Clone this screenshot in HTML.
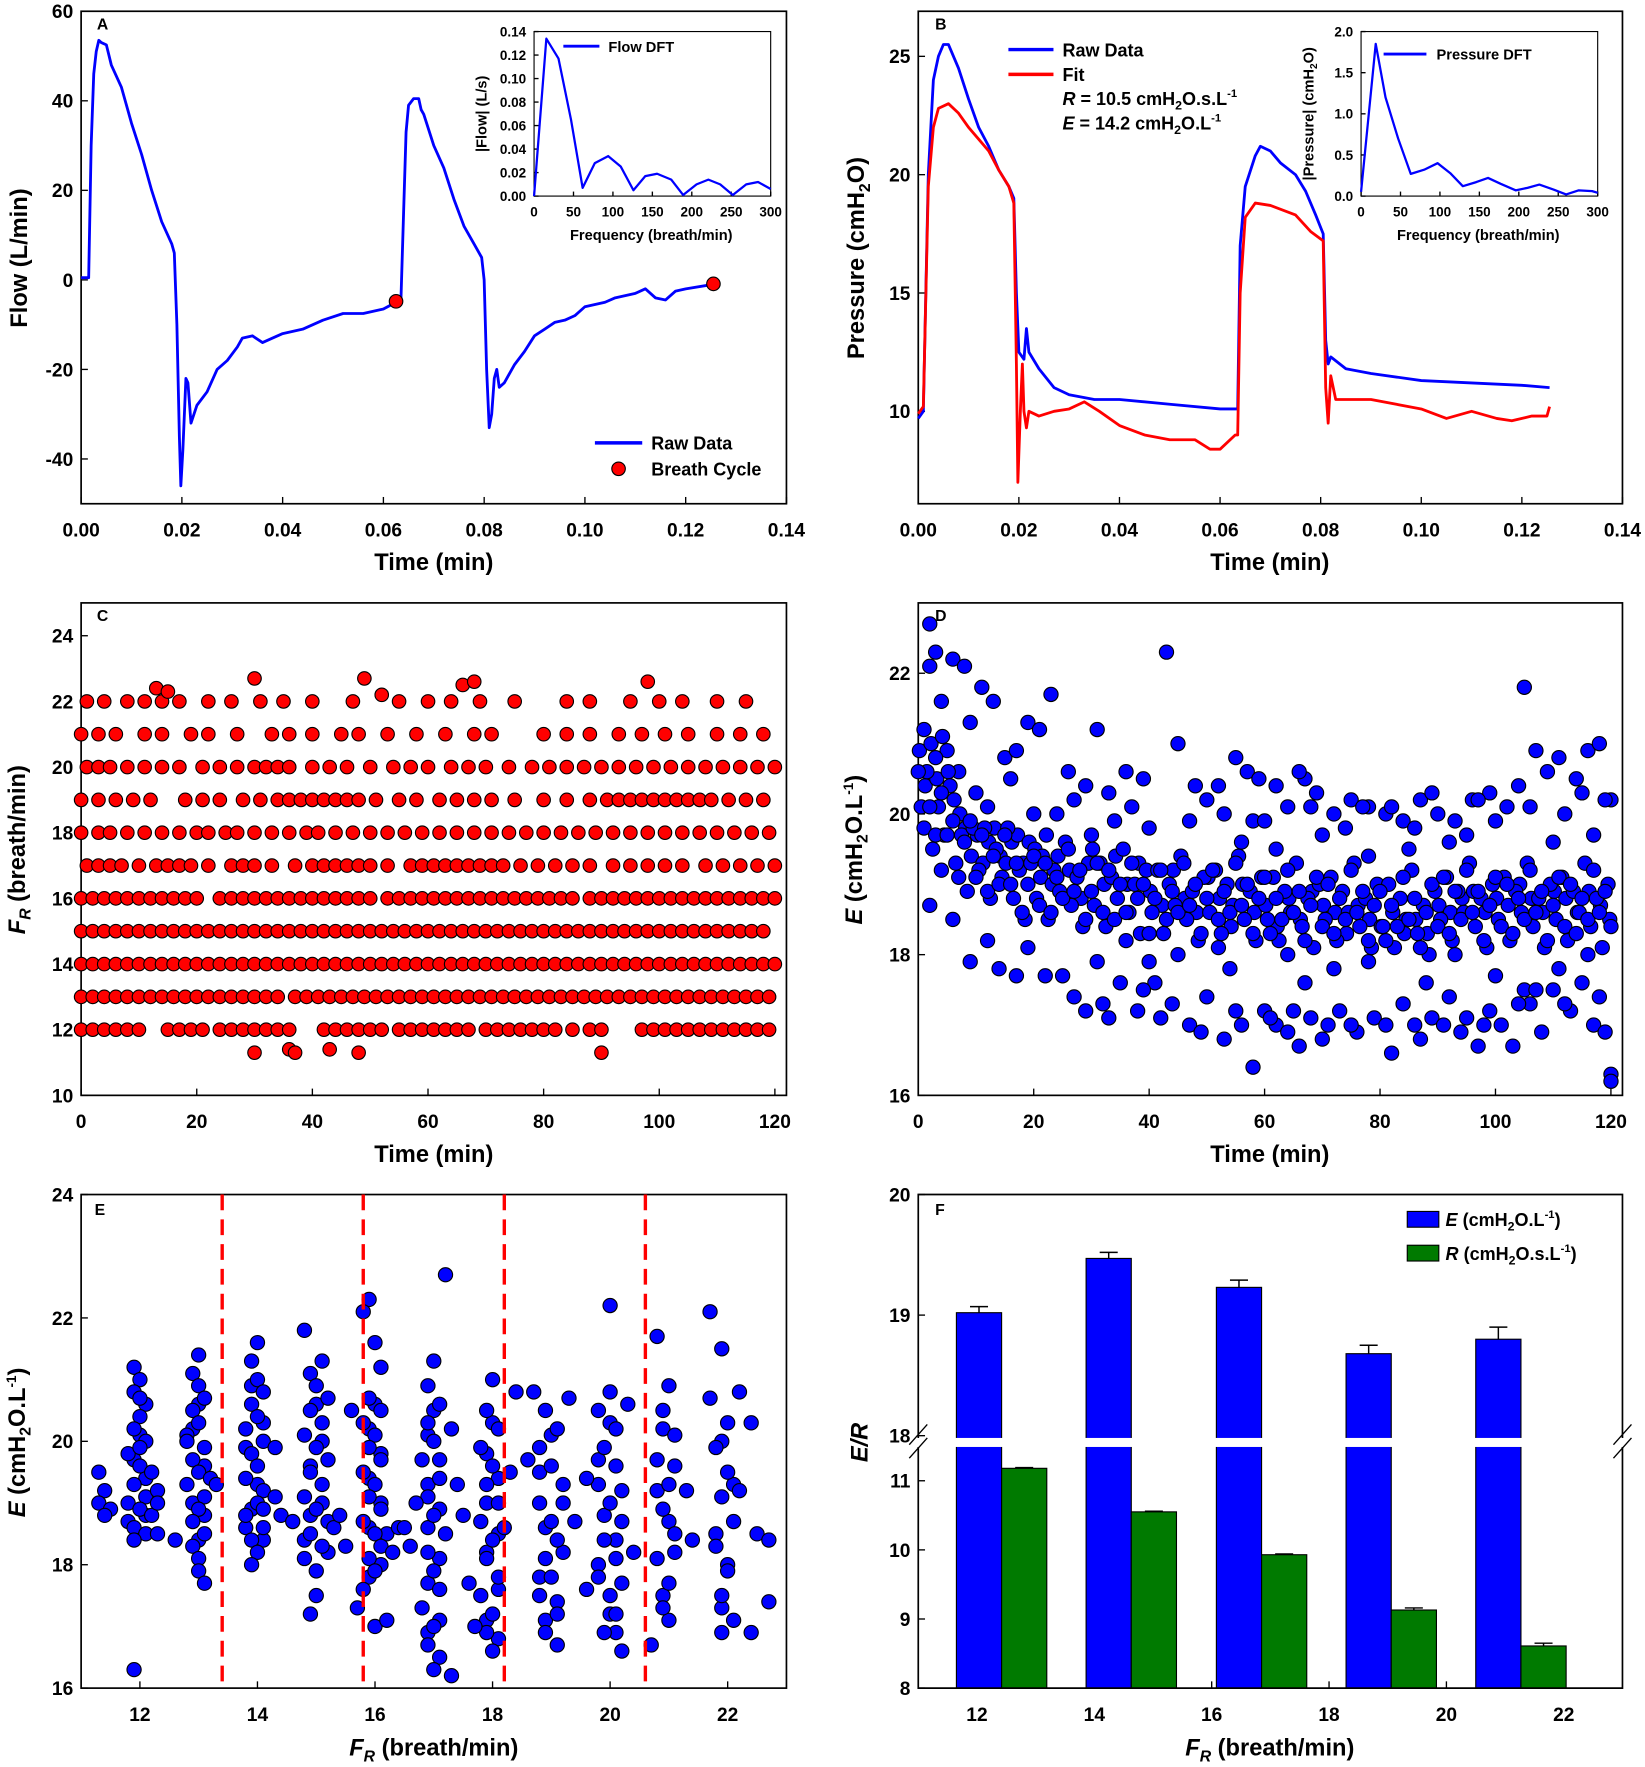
<!DOCTYPE html>
<html><head><meta charset="utf-8"><title>Respiratory mechanics figure</title>
<style>
html,body{margin:0;padding:0;background:#fff;}
svg{display:block;font-family:"Liberation Sans",Arial,sans-serif;font-weight:bold;}
</style></head>
<body>
<svg id="fig" xmlns="http://www.w3.org/2000/svg" width="1645" height="1767" viewBox="0 0 1460 1568" preserveAspectRatio="none">
<rect x="0" y="0" width="1460" height="1568" fill="#fff"/>
<g id="layer"></g>
<g font-size="21" text-anchor="middle">
<text transform="translate(24,229) rotate(-90)">Flow (L/min)</text>
<text x="385" y="506">Time (min)</text>
<text transform="translate(767,229) rotate(-90)">Pressure (cmH<tspan font-size="14" dy="5">2</tspan><tspan dy="-5">O)</tspan></text>
<text x="1127" y="506">Time (min)</text>
<text transform="translate(22,754) rotate(-90)"><tspan font-style="italic">F</tspan><tspan font-style="italic" font-size="14" dy="5">R</tspan><tspan dy="-5"> (breath/min)</tspan></text>
<text x="385" y="1031">Time (min)</text>
<text transform="translate(765,754) rotate(-90)"><tspan font-style="italic">E</tspan> (cmH<tspan font-size="14" dy="5">2</tspan><tspan dy="-5">O.L</tspan><tspan font-size="12" dy="-8">-1</tspan><tspan dy="8">)</tspan></text>
<text x="1127" y="1031">Time (min)</text>
<text transform="translate(22,1280) rotate(-90)"><tspan font-style="italic">E</tspan> (cmH<tspan font-size="14" dy="5">2</tspan><tspan dy="-5">O.L</tspan><tspan font-size="12" dy="-8">-1</tspan><tspan dy="8">)</tspan></text>
<text x="385" y="1558"><tspan font-style="italic">F</tspan><tspan font-style="italic" font-size="14" dy="5">R</tspan><tspan dy="-5"> (breath/min)</tspan></text>
<text transform="translate(770,1280) rotate(-90)" font-style="italic">E/R</text>
<text x="1127" y="1558"><tspan font-style="italic">F</tspan><tspan font-style="italic" font-size="14" dy="5">R</tspan><tspan dy="-5"> (breath/min)</tspan></text>
</g>
<g font-size="14">
<text x="86" y="26">A</text>
<text x="830" y="26">B</text>
<text x="86" y="551">C</text>
<text x="830" y="551">D</text>
<text x="84" y="1078">E</text>
<text x="830" y="1078">F</text>
</g>
<g id="legends" font-size="16">
<g>
<line x1="528" y1="393" x2="570" y2="393" stroke="#0000ff" stroke-width="3"/>
<text x="578" y="399">Raw Data</text>
<circle cx="549" cy="416" r="6" fill="#ff0000" stroke="#000" stroke-width="1"/>
<text x="578" y="422">Breath Cycle</text>
</g>
<g>
<line x1="895" y1="44" x2="935" y2="44" stroke="#0000ff" stroke-width="3"/>
<text x="943" y="50">Raw Data</text>
<line x1="895" y1="66" x2="935" y2="66" stroke="#ff0000" stroke-width="3"/>
<text x="943" y="72">Fit</text>
<text x="943" y="93"><tspan font-style="italic">R</tspan> = 10.5 cmH<tspan font-size="11" dy="4">2</tspan><tspan dy="-4">O.s.L</tspan><tspan font-size="10" dy="-7">-1</tspan></text>
<text x="943" y="115"><tspan font-style="italic">E</tspan> = 14.2 cmH<tspan font-size="11" dy="4">2</tspan><tspan dy="-4">O.L</tspan><tspan font-size="10" dy="-7">-1</tspan></text>
</g>
<g font-size="13">
<line x1="500" y1="41" x2="532" y2="41" stroke="#0000ff" stroke-width="2.5"/>
<text x="540" y="46">Flow DFT</text>
<line x1="1228" y1="48" x2="1266" y2="48" stroke="#0000ff" stroke-width="2.5"/>
<text x="1275" y="53">Pressure DFT</text>
<text transform="translate(432,101) rotate(-90)" text-anchor="middle">|Flow| (L/s)</text>
<text x="578" y="213" text-anchor="middle">Frequency (breath/min)</text>
<text transform="translate(1166,101) rotate(-90)" text-anchor="middle">|Pressure| (cmH<tspan font-size="9" dy="3">2</tspan><tspan dy="-3">O)</tspan></text>
<text x="1312" y="213" text-anchor="middle">Frequency (breath/min)</text>
</g>
<g font-size="16">
<rect x="1249" y="1075" width="28" height="14" fill="#0000ff" stroke="#000"/>
<text x="1283" y="1088"><tspan font-style="italic">E</tspan>  (cmH<tspan font-size="11" dy="4">2</tspan><tspan dy="-4">O.L</tspan><tspan font-size="10" dy="-7">-1</tspan><tspan dy="7">)</tspan></text>
<rect x="1249" y="1105" width="28" height="14" fill="#007a00" stroke="#000"/>
<text x="1283" y="1118"><tspan font-style="italic">R</tspan>  (cmH<tspan font-size="11" dy="4">2</tspan><tspan dy="-4">O.s.L</tspan><tspan font-size="10" dy="-7">-1</tspan><tspan dy="7">)</tspan></text>
</g>
</g>
</svg>
<script>
// ---------- data ----------
const flowT=[0,0.0015,0.002,0.0025,0.003,0.0035,0.004,0.005,0.006,0.008,0.010,0.012,0.014,0.016,0.018,0.0185,0.019,0.0195,0.0198,0.0202,0.0208,0.0212,0.0218,0.023,0.025,0.027,0.029,0.031,0.032,0.034,0.036,0.038,0.040,0.044,0.048,0.052,0.056,0.060,0.0625,0.0635,0.064,0.0645,0.065,0.066,0.067,0.0675,0.068,0.070,0.072,0.074,0.076,0.078,0.0795,0.080,0.0805,0.081,0.0815,0.082,0.0825,0.083,0.084,0.086,0.088,0.090,0.092,0.094,0.096,0.098,0.100,0.104,0.106,0.110,0.112,0.114,0.116,0.118,0.120,0.1255];
const flowV=[0.5,0.5,30,46,51,53.5,53,52.5,48,43,35,28,20,13,8,6,-10,-35,-46,-38,-22,-23,-32,-28,-25,-20,-18,-15,-13,-12.5,-14,-13,-12,-11,-9,-7.5,-7.5,-6.5,-5,-4,15,33,39,40.5,40.5,38,37,30,25,18,12,8,5,0,-20,-33,-30,-22,-20,-24,-23,-19,-16,-12.5,-11,-9.5,-9,-8,-6,-5,-4,-3,-2,-4,-4.5,-2.5,-2,-1];
const breathT=[0.0625,0.1255];
const breathV=[-4.8,-0.9];
const flowDftF=[0,15.6,31,46.8,61.6,77,94,110,126,141,156,174,189,206,221,236,252,269,284,300];
const flowDftV=[0,0.134,0.117,0.065,0.007,0.028,0.034,0.025,0.005,0.017,0.019,0.014,0.001,0.010,0.014,0.010,0.001,0.010,0.012,0.006];
const presT=[0,0.001,0.002,0.003,0.004,0.005,0.006,0.008,0.010,0.012,0.014,0.016,0.018,0.019,0.0195,0.020,0.021,0.0215,0.022,0.024,0.027,0.030,0.035,0.040,0.050,0.060,0.0635,0.064,0.065,0.067,0.068,0.070,0.072,0.075,0.077,0.079,0.0805,0.081,0.0815,0.082,0.085,0.090,0.100,0.110,0.120,0.1255];
const presRaw=[9.7,10,20,24,25,25.5,25.5,24.5,23.2,22,21.2,20.2,19.5,19,15,12.5,12.2,13.5,12.5,11.8,11,10.7,10.5,10.5,10.3,10.1,10.1,17,19.5,20.8,21.2,21,20.5,20,19.3,18.3,17.5,13,12,12.3,11.8,11.6,11.3,11.2,11.1,11];
const fitT=[0,0.001,0.002,0.003,0.004,0.006,0.008,0.010,0.012,0.014,0.016,0.018,0.019,0.0195,0.0198,0.0203,0.0207,0.021,0.0215,0.022,0.024,0.027,0.030,0.033,0.036,0.040,0.045,0.050,0.055,0.058,0.060,0.063,0.0635,0.064,0.065,0.067,0.070,0.075,0.078,0.0805,0.081,0.0815,0.082,0.083,0.090,0.100,0.105,0.110,0.115,0.118,0.122,0.125,0.1255];
const fitV=[9.9,10.2,19.5,22,22.8,23,22.6,22,21.5,21,20.2,19.5,18.8,12,7,10,12,10,9.3,10,9.8,10,10.1,10.4,10,9.4,9,8.8,8.8,8.4,8.4,9,9,15,18.2,18.8,18.7,18.3,17.6,17.2,11,9.5,11.5,10.5,10.5,10.1,9.7,10,9.7,9.6,9.8,9.8,10.2];
const presDftF=[0,18.6,31,47,63,80,97,113,129,146,161,177,196,211,226,244,260,276,293,300];
const presDftV=[0.05,1.85,1.2,0.7,0.27,0.32,0.4,0.28,0.12,0.17,0.22,0.15,0.07,0.10,0.14,0.08,0.02,0.07,0.06,0.04];

// Panel C: times (min) at which each respiratory-rate level was set
const cLevels=[12,13,14,15,16,17,18,19,20,21,22];
const cTimes=[
[0,2,4,6,8,10,15,17,19,21,24,26,28,30,32,34,36,42,44,46,48,50,52,55,57,59,61,63,65,67,70,72,74,76,78,80,82,85,88,90,97,99,101,103,105,107,109,111,113,115,117,119],
[0,2,4,6,8,10,12,14,16,18,20,22,24,26,28,30,32,34,37,39,41,43,45,47,49,51,53,55,57,59,61,63,65,67,69,71,73,75,77,79,81,83,85,87,89,91,93,95,97,99,101,103,105,107,109,111,113,115,117,119],
[0,2,4,6,8,10,12,14,16,18,20,22,24,26,28,30,32,34,36,38,40,42,44,46,48,50,52,54,56,58,60,62,64,66,68,70,72,74,76,78,80,82,84,86,88,90,92,94,96,98,100,102,104,106,108,110,112,114,116,118,120],
[0,2,4,6,8,10,12,14,16,18,20,22,24,26,28,30,32,34,36,38,40,42,44,46,48,50,52,54,56,58,60,62,64,66,68,70,72,74,76,78,80,82,84,86,88,90,92,94,96,98,100,102,104,106,108,110,112,114,116,118],
[0,2,4,6,8,10,12,14,16,18,20,24,26,28,30,32,34,36,38,40,42,44,46,48,50,53,55,57,59,61,63,65,67,69,71,73,75,77,79,81,83,85,88,90,92,94,96,98,100,102,104,106,108,110,112,114,116,118,120],
[1,3,5,7,10,13,15,17,19,22,26,28,30,33,37,40,42,44,46,48,50,53,57,59,61,63,65,67,69,71,73,76,79,82,85,88,92,95,98,101,104,108,111,114,117,120],
[0,3,5,8,11,14,17,20,22,25,27,30,33,36,39,41,44,47,50,53,56,59,62,65,68,71,74,77,80,83,86,89,92,95,98,101,104,107,110,113,116,119],
[0,3,6,9,12,18,21,24,28,31,34,36,38,40,42,44,46,48,51,55,58,62,65,68,71,75,80,84,88,91,93,95,97,99,101,103,105,107,109,112,115,118],
[1,3,5,8,11,14,17,21,24,27,30,32,34,36,40,43,46,50,54,57,60,64,67,70,74,78,81,84,87,90,93,96,99,102,105,108,111,114,117,120],
[0,3,6,11,14,19,22,27,33,36,40,45,48,53,58,63,68,71,80,84,88,93,97,101,105,110,114,118],
[1,4,8,11,14,17,22,26,31,35,40,47,55,60,64,69,75,84,88,95,100,104,110,115]];
const cExtra=[[30,22.7],[49,22.7],[66,22.5],[68,22.6],[98,22.6],[13,22.4],[15,22.3],[52,22.2],[30,11.3],[36,11.4],[37,11.3],[43,11.4],[48,11.3],[90,11.3]];

// Panel D: elastance vs time [t, E]
const dCoreA=[[0,20.6],[1,19.8],[2,20.1],[3,19.7],[4,20.3],[5,19.7],[6,19.9],[7,19.1],[8,19.6],[9,19.9],[10,19.1],[11,19.7],[12,18.9],[13,19.4],[14,19.0],[15,19.7],[16,19.0],[17,19.3],[18,18.6],[19,19.0],[20,19.4],[21,18.7],[22,19.3],[23,18.6],[24,19.1],[25,18.8],[26,19.5],[27,18.9],[28,19.2],[29,18.5],[30,18.9],[31,19.3],[32,18.6],[33,19.2],[34,18.5],[35,19.0],[36,18.6],[37,19.3],[38,18.8],[39,19.0],[40,18.3],[41,18.8],[42,19.2],[43,18.5],[44,18.9],[45,18.6],[46,19.3],[47,18.7],[48,19.0],[49,18.3],[50,18.8],[51,19.2],[52,18.5],[53,18.9],[54,18.6],[55,19.3],[56,18.7],[57,19.0],[58,18.3],[59,18.8],[60,19.1],[61,18.3],[62,18.8],[63,18.5],[64,19.2],[65,18.6],[66,18.9],[67,18.2],[68,18.7],[69,19.1],[70,18.4],[71,19.0],[72,18.3],[73,18.8],[74,18.5],[75,19.2],[76,18.6],[77,18.9],[78,18.2],[79,18.7],[80,18.9],[81,18.2],[82,18.7],[83,18.4],[84,19.1],[85,18.5],[86,18.8],[87,18.1],[88,18.6],[89,19.0],[90,18.4],[91,19.1],[92,18.3],[93,18.9],[94,18.5],[95,19.2],[96,18.6],[97,18.9],[98,18.2],[99,18.7],[100,19.1],[101,18.4],[102,19.0],[103,18.3],[104,18.8],[105,18.5],[106,19.2],[107,18.6],[108,18.9],[109,18.2],[110,18.7],[111,19.1],[112,18.4],[113,19.0],[114,18.3],[115,18.8],[116,18.5],[117,19.2],[118,18.6],[119,18.9],[120,18.4]];
const dCoreB=[[0.5,20.1],[1.5,20.6],[2.5,19.5],[3.5,20.1],[4.5,19.7],[5.5,20.4],[6.5,19.3],[7.5,19.7],[8.5,18.9],[9.5,19.8],[10.5,19.2],[11.5,19.8],[12.5,18.8],[13.5,19.5],[14.5,19.1],[15.5,19.8],[16.5,18.8],[17.5,19.2],[18.5,18.5],[19.5,19.3],[20.5,18.8],[21.5,19.4],[22.5,18.5],[23.5,19.2],[24.5,18.9],[25.5,19.6],[26.5,18.7],[27.5,19.1],[28.5,18.4],[29.5,19.3],[30.5,18.7],[31.5,19.3],[32.5,18.4],[33.5,19.1],[34.5,18.8],[35.5,19.5],[36.5,18.6],[37.5,19.0],[38.5,18.3],[39.5,19.2],[40.5,18.6],[41.5,19.2],[42.5,18.3],[43.5,19.0],[44.5,18.7],[45.5,19.4],[46.5,18.5],[47.5,18.9],[48.5,18.2],[49.5,19.1],[50.5,18.6],[51.5,19.2],[52.5,18.3],[53.5,19.0],[54.5,18.7],[55.5,19.4],[56.5,18.5],[57.5,18.9],[58.5,18.2],[59.5,19.1],[60.5,18.5],[61.5,19.1],[62.5,18.2],[63.5,18.9],[64.5,18.6],[65.5,19.3],[66.5,18.4],[67.5,18.8],[68.5,18.1],[69.5,19.0],[70.5,18.5],[71.5,19.1],[72.5,18.2],[73.5,18.9],[74.5,18.6],[75.5,19.3],[76.5,18.4],[77.5,18.8],[78.5,18.1],[79.5,19.0],[80.5,18.4],[81.5,19.0],[82.5,18.1],[83.5,18.8],[84.5,18.5],[85.5,19.2],[86.5,18.3],[87.5,18.7],[88.5,18.0],[89.5,18.9],[90.5,18.5],[91.5,19.1],[92.5,18.2],[93.5,18.9],[94.5,18.6],[95.5,19.3],[96.5,18.4],[97.5,18.8],[98.5,18.1],[99.5,19.0],[100.5,18.5],[101.5,19.1],[102.5,18.2],[103.5,18.9],[104.5,18.6],[105.5,19.3],[106.5,18.4],[107.5,18.8],[108.5,18.1],[109.5,19.0],[110.5,18.5],[111.5,19.1],[112.5,18.2],[113.5,18.9],[114.5,18.6],[115.5,19.3],[116.5,18.4],[117.5,18.8],[118.5,18.1],[119.5,19.0]];
const dCoreC=[[0.2,20.9],[1.2,20.4],[2.2,21.0],[3.2,20.5],[4.2,21.1],[5.2,20.6],[6.2,20.2],[7.2,20.0],[8.2,19.8],[9.2,19.4],[10.2,19.7],[11.2,19.3],[12.2,19.6],[13.2,19.8],[14.2,19.4],[15.2,19.3],[16.2,19.6],[17.2,19.7],[18.2,19.3],[19.2,19.6],[20.2,19.5],[21.2,19.1],[22.2,19.7],[23.2,19.0],[24.2,19.4],[26.2,19.2],[28.2,18.8],[30.2,19.5],[32.2,19.0],[34.2,19.4],[36.2,19.0],[38.2,19.3],[40.2,18.9],[42.2,18.7],[44.2,19.2],[46.2,18.8],[48.2,18.6],[50.2,19.1],[52.2,18.8],[54.2,18.4],[56.2,19.0],[58.2,18.6],[60.2,18.7],[62.2,18.4],[64.2,18.8],[66.2,18.5],[68.2,18.9],[70.2,18.7],[72.2,18.6],[74.2,18.3],[76.2,18.7],[78.2,18.5],[80.2,18.4],[82.2,18.6],[84.2,18.3],[86.2,18.5],[88.2,18.3],[90.2,18.7],[92.2,18.6],[94.2,18.8],[96.2,18.9],[98.2,18.6],[100.2,18.8],[102.2,18.7],[104.2,19.0],[106.2,18.8],[108.2,18.6],[110.2,18.9],[112.2,18.8],[114.2,18.6],[116.2,18.9],[118.2,18.7],[119.8,18.5]];
const dUpper=[[1,21.2],[2,22.7],[3,22.3],[2,22.1],[4,21.6],[6,22.2],[8,22.1],[9,21.3],[11,21.8],[13,21.6],[15,20.8],[17,20.9],[19,21.3],[21,21.2],[23,21.7],[26,20.6],[29,20.4],[31,21.2],[33,20.3],[36,20.6],[39,20.5],[43,22.3],[45,21.0],[48,20.4],[52,20.4],[55,20.8],[57,20.6],[59,20.5],[62,20.4],[64,20.1],[67,20.5],[69,20.3],[72,20.0],[75,20.2],[78,20.1],[81,20.0],[84,19.9],[87,20.2],[90,20.0],[93,19.9],[96,20.2],[99,20.3],[102,20.1],[104,20.4],[105,21.8],[107,20.9],[109,20.6],[111,20.8],[114,20.5],[116,20.9],[118,21.0],[120,20.2],[24,20.0],[34,19.9],[50,20.2],[66,20.6],[86,19.8],[112,20.0],[20,20.0],[30,19.7],[40,19.8],[56,19.6],[70,19.7],[85,19.5],[95,19.7],[110,19.6],[10,20.3],[16,20.5],[5,20.9],[7,20.6],[12,20.1],[3,20.8],[78,19.4],[62,19.5],[47,19.9],[74,19.8],[92,19.6],[100,19.9],[117,19.7],[58,19.9],[27,20.2],[37,20.1],[53,20.0],[60,19.9],[68,20.1],[77,20.1],[82,20.1],[89,20.3],[97,20.2],[106,20.1],[115,20.3],[119,20.2]];
const dLower=[[2,18.7],[4,19.2],[6,18.5],[9,17.9],[12,18.2],[14,17.8],[17,17.7],[19,18.1],[22,17.7],[25,17.7],[27,17.4],[29,17.2],[32,17.3],[35,17.6],[38,17.2],[41,17.6],[44,17.3],[47,17.0],[50,17.4],[53,16.8],[56,17.0],[58,16.4],[60,17.2],[62,17.0],[64,16.9],[66,16.7],[68,17.1],[70,16.8],[73,17.2],[76,16.9],[79,17.1],[82,16.6],[84,17.3],[87,16.8],[89,17.1],[92,17.4],[94,16.9],[97,16.7],[99,17.2],[101,17.0],[103,16.7],[106,17.3],[108,16.9],[110,17.5],[113,17.2],[115,17.6],[117,17.0],[119,16.9],[120,16.3],[120,16.2],[36,18.2],[54,17.8],[72,17.8],[88,17.6],[100,17.7],[116,18.0],[45,18.0],[64,18.0],[31,17.9],[40,17.9],[52,18.1],[67,17.6],[78,17.9],[93,18.0],[105,17.5],[111,17.8],[33,17.1],[39,17.5],[42,17.1],[49,16.9],[55,17.2],[61,17.1],[65,17.2],[71,17.0],[75,17.0],[81,17.0],[86,17.0],[91,17.0],[95,17.1],[98,17.0],[104,17.3],[107,17.5],[112,17.3],[118,17.4]];

// Panel E: elastance vs respiratory rate [FR, E]
const ePoints=[[11.3,19.5],[11.4,19.2],[11.3,19.0],[11.5,18.9],[11.4,18.8],
[11.9,21.2],[12.0,21.0],[11.9,20.8],[12.1,20.6],[12.0,20.4],[11.9,20.2],[12.1,20.0],[11.8,19.8],[12.0,19.6],[12.2,19.5],[11.9,19.3],[12.1,19.1],[11.8,19.0],[12.0,18.9],[12.2,18.8],[11.9,18.6],[12.1,18.5],[11.9,18.4],[12.0,19.9],[12.3,19.2],[12.0,20.7],[11.9,16.3],[12.3,18.5],[12.3,19.0],
[13.0,21.4],[12.9,21.1],[13.0,20.9],[13.1,20.7],[12.9,20.5],[13.0,20.3],[12.8,20.1],[13.1,19.9],[12.9,19.7],[13.0,19.5],[12.8,19.3],[13.1,19.1],[13.0,18.9],[12.9,18.7],[13.1,18.5],[12.9,18.3],[13.0,18.1],[13.0,17.9],[13.1,17.7],[12.8,20.0],[13.2,19.4],[12.6,18.4],[13.3,19.3],
[14.0,21.6],[13.9,21.3],[14.0,21.0],[14.1,20.8],[13.9,20.6],[14.0,20.4],[13.8,20.2],[14.1,20.0],[13.9,19.8],[14.0,19.6],[13.8,19.4],[14.1,19.2],[14.0,19.0],[13.8,18.8],[14.1,18.6],[13.9,18.4],[14.0,18.2],[13.9,18.0],[14.3,19.9],[14.3,19.1],[14.4,18.8],[14.6,18.7],[14.1,18.9],
[14.8,21.8],[15.1,21.3],[14.9,21.1],[15.0,20.9],[15.2,20.7],[14.9,20.5],[15.1,20.3],[14.8,20.1],[15.0,19.9],[15.2,19.7],[14.9,19.5],[15.1,19.3],[14.8,19.1],[15.0,18.9],[15.2,18.7],[14.9,18.5],[15.1,18.3],[14.8,18.1],[15.0,17.9],[15.0,17.5],[14.9,17.2],[15.3,18.6],[15.4,18.8],[15.5,18.3],
[15.9,22.3],[15.8,22.1],[16.0,21.6],[16.1,21.2],[15.9,20.7],[16.1,20.5],[15.8,20.3],[16.0,20.1],[15.9,19.9],[16.1,19.7],[15.8,19.5],[16.0,19.3],[15.9,19.1],[16.1,18.9],[15.8,18.7],[16.0,18.5],[16.1,18.3],[15.9,18.1],[16.0,17.9],[15.8,17.6],[15.7,17.3],[16.0,17.0],[16.2,17.1],[15.6,20.5],[16.4,18.6],[16.5,18.6],[16.3,18.2],
[17.2,22.7],[17.0,21.3],[16.9,20.9],[17.1,20.6],[16.9,20.3],[17.0,20.0],[16.8,19.7],[17.1,19.4],[16.9,19.1],[17.0,18.8],[17.2,18.5],[16.9,18.2],[17.0,17.9],[17.1,17.6],[16.8,17.3],[17.0,17.0],[16.9,16.7],[17.1,16.5],[17.0,16.3],[17.3,16.2],[16.7,19.0],[17.4,19.3],[17.5,18.8],[16.6,18.3],[17.3,20.2],
[18.0,21.0],[17.9,20.5],[18.1,20.2],[17.8,19.9],[18.0,19.6],[17.9,19.3],[18.1,19.0],[17.8,18.7],[18.0,18.4],[17.9,18.1],[18.1,17.8],[17.8,17.5],[18.0,17.2],[17.9,16.9],[18.0,16.6],[17.7,17.0],[18.3,19.5],[18.4,20.8],[18.2,18.6],[17.6,17.7],
[18.7,20.8],[18.9,20.5],[19.1,20.2],[18.8,19.9],[19.0,19.6],[19.2,19.3],[18.8,19.0],[19.0,18.7],[19.1,18.4],[18.9,18.1],[19.0,17.8],[18.8,17.5],[19.1,17.2],[18.9,16.9],[19.3,20.7],[19.4,18.7],[18.6,19.7],[19.1,16.7],
[20.0,22.2],[20.0,20.8],[19.8,20.5],[20.1,20.2],[19.9,19.9],[20.1,19.6],[19.8,19.3],[20.0,19.0],[20.2,18.7],[19.9,18.4],[20.1,18.1],[19.8,17.8],[20.0,17.5],[20.1,17.2],[19.9,16.9],[20.2,16.6],[19.6,19.4],[20.4,18.2],[20.3,20.6],[19.6,17.6],
[20.8,21.7],[21.0,20.9],[20.9,20.5],[21.1,20.1],[20.8,19.7],[21.0,19.3],[20.9,18.9],[21.1,18.5],[20.8,18.1],[21.0,17.7],[20.9,17.3],[20.7,16.7],[21.3,19.2],[21.4,18.4],
[21.7,22.1],[21.9,21.5],[21.7,20.7],[22.0,20.3],[21.8,19.9],[22.0,19.5],[21.9,19.1],[22.1,18.7],[21.8,18.3],[22.0,17.9],[21.9,17.5],[22.1,17.1],[21.9,16.9],[22.2,20.8],[22.2,19.2],
[22.4,20.3],[22.5,18.5],[22.7,17.4],[22.7,18.4],[22.4,16.9]];
const ePointsB=[[12.0,20.1],[11.9,19.7],[12.1,19.4],[11.8,18.7],[12.1,18.8],[13.0,20.6],[12.9,20.2],[13.1,19.6],[12.9,19.0],[13.1,18.8],[13.0,18.4],[13.9,20.9],[14.1,20.3],[13.8,19.9],[14.0,19.3],[13.9,18.9],[14.1,18.4],[13.8,18.6],[15.0,20.6],[15.1,20.0],[14.9,19.6],[15.1,19.0],[14.9,18.8],[15.2,18.2],[14.8,18.4],[16.0,20.6],[15.9,20.2],[16.1,19.8],[15.9,19.4],[16.1,19.0],[15.9,18.6],[16.1,18.0],[15.9,17.8],[16.2,18.5],[17.0,20.5],[16.9,20.1],[17.1,19.7],[16.9,19.3],[17.1,18.9],[16.9,18.6],[17.1,18.1],[16.9,17.7],[17.1,17.1],[16.9,16.9],[18.0,20.3],[17.9,19.8],[18.1,19.4],[17.9,19.0],[18.1,18.5],[17.9,18.2],[18.1,17.6],[17.9,17.1],[18.1,16.8],[19.0,20.1],[18.8,19.5],[19.2,19.0],[18.9,18.6],[19.2,18.2],[18.8,17.8],[19.1,17.4],[18.9,17.1],[20.0,20.3],[19.8,19.7],[20.2,19.2],[19.9,18.8],[20.1,18.4],[19.8,18.0],[20.2,17.7],[20.0,17.2],[20.1,16.9],[20.9,20.2],[21.1,19.6],[20.8,19.2],[21.0,18.7],[21.1,18.2],[20.9,17.5],[21.0,17.1],[21.9,20.0],[22.1,19.3],[21.8,18.5],[22.0,18.0],[21.9,17.3]];
const eDashes=[13.4,15.8,18.2,20.6];

// Panel F: mean E and R per rate band
const fGroups=[12.42,14.63,16.85,19.06,21.27];
const fEMean=[19.02,19.47,19.23,18.68,18.80];
const fEErr=[0.05,0.05,0.06,0.07,0.10];
const fRMean=[11.18,10.55,9.93,9.13,8.61];
const fRErr=[0.01,0.01,0.01,0.03,0.04];

// tick labels
const aXTicks=[0,0.02,0.04,0.06,0.08,0.10,0.12,0.14];
const aYTicks=[-40,-20,0,20,40,60];
const bYTicks=[10,15,20,25];
const inAXTicks=[0,50,100,150,200,250,300];
const inAYTicks=[0,0.02,0.04,0.06,0.08,0.10,0.12,0.14];
const inBYTicks=[0,0.5,1.0,1.5,2.0];
const cXTicks=[0,20,40,60,80,100,120];
const cYTicks=[10,12,14,16,18,20,22,24];
const dYTicks=[16,18,20,22];
const eXTicks=[12,14,16,18,20,22];
const eYTicks=[16,18,20,22,24];
const fYTopTicks=[18,19,20];
const fYBotTicks=[8,9,10,11];

// ---------- drawing ----------
const NS='http://www.w3.org/2000/svg';
const layer=document.getElementById('layer');
function mk(tag,attrs,parent){const e=document.createElementNS(NS,tag);for(const k in attrs)e.setAttribute(k,attrs[k]);(parent||layer).appendChild(e);return e;}
function scale(d0,d1,r0,r1){return v=>r0+(v-d0)/(d1-d0)*(r1-r0);}
function frame(x0,y0,x1,y1,name,sw){
  const r=mk('rect',{x:x0,y:y0,width:x1-x0,height:y1-y0,fill:'none',stroke:'#000','stroke-width':sw||1.5});
  
  
}
function xTicks(vals,sx,yb,fs,fmt,name,tl,gapPx){
  const g=mk('g',{'font-size':fs,'text-anchor':'middle'});
  
  
  vals.forEach(v=>{
    const l=mk('line',{x1:sx(v),x2:sx(v),y1:yb,y2:yb-(tl||6),stroke:'#000','stroke-width':1.2},g);
    
    
    const t=mk('text',{x:sx(v),y:yb+fs+(gapPx===undefined?12:gapPx)},g);
    
    
    t.textContent=fmt(v);
  });
}
function yTicks(vals,sy,xl,fs,fmt,name,tl){
  const g=mk('g',{'font-size':fs,'text-anchor':'end'});
  
  
  vals.forEach(v=>{
    const l=mk('line',{x1:xl,x2:xl+(tl||6),y1:sy(v),y2:sy(v),stroke:'#000','stroke-width':1.2},g);
    
    
    const t=mk('text',{x:xl-7,y:sy(v)+fs*0.36},g);
    
    
    t.textContent=fmt(v);
  });
}
function line(xs,ys,sx,sy,color,w,name){
  const pts=xs.map((x,i)=>sx(x).toFixed(1)+','+sy(ys[i]).toFixed(1)).join(' ');
  const p=mk('polyline',{points:pts,fill:'none',stroke:color,'stroke-width':w,'stroke-linejoin':'round'});
  
  
}
function dots(pts,sx,sy,color,r,name,g){
  pts.forEach(p=>{
    const c=mk('circle',{cx:sx(p[0]).toFixed(1),cy:sy(p[1]).toFixed(1),r:r,fill:color,stroke:'#000','stroke-width':1},g);
    
    
  });
}
const f2=v=>v.toFixed(2), f0=v=>String(v), f1=v=>v.toFixed(1);

// Panel A
{const sx=scale(0,0.14,72,698), sy=scale(-50,60,447,10);
 frame(72,10,698,447,'a-plot-frame');
 xTicks(aXTicks,sx,447,17,f2,'a-x-axis');
 yTicks(aYTicks,sy,72,17,f0,'a-y-axis');
 line(flowT,flowV,sx,sy,'#0000ff',2.5,'a-flow-line');
 dots(breathT.map((t,i)=>[t,breathV[i]]),sx,sy,'#ff0000',6,'a-breath-marker');
 const ix=scale(0,300,474,684), iy=scale(0,0.14,174,28);
 frame(474,28,684,174,'a-inset-frame',1);
 xTicks(inAXTicks,ix,174,12,f0,'a-inset-x-axis',4,6);
 yTicks(inAYTicks,iy,474,12,f2,'a-inset-y-axis',4);
 line(flowDftF,flowDftV,ix,iy,'#0000ff',2,'a-inset-dft-line');}
// Panel B
{const sx=scale(0,0.14,815,1440), sy=scale(10,25,365,50);
 frame(815,10,1440,447,'b-plot-frame');
 xTicks(aXTicks,sx,447,17,f2,'b-x-axis');
 yTicks(bYTicks,sy,815,17,f0,'b-y-axis');
 line(presT,presRaw,sx,sy,'#0000ff',2.5,'b-raw-pressure-line');
 line(fitT,fitV,sx,sy,'#ff0000',2.5,'b-fit-pressure-line');
 const ix=scale(0,300,1208,1418), iy=scale(0,2,174,28);
 frame(1208,28,1418,174,'b-inset-frame',1);
 xTicks(inAXTicks,ix,174,12,f0,'b-inset-x-axis',4,6);
 yTicks(inBYTicks,iy,1208,12,f1,'b-inset-y-axis',4);
 line(presDftF,presDftV,ix,iy,'#0000ff',2,'b-inset-dft-line');}
// Panel C
{const sx=scale(0,122,72,698), sy=scale(10,25,972,535);
 frame(72,535,698,972,'c-plot-frame');
 xTicks(cXTicks,sx,972,17,f0,'c-x-axis');
 yTicks(cYTicks,sy,72,17,f0,'c-y-axis');
 const g=mk('g',{});
 
 
 cLevels.forEach((lv,i)=>dots(cTimes[i].map(t=>[t,lv]),sx,sy,'#ff0000',6,'c-rate-point',g));
 dots(cExtra,sx,sy,'#ff0000',6,'c-rate-point',g);}
// Panel D
{const sx=scale(0,122,815,1440), sy=scale(16,23,972,535);
 frame(815,535,1440,972,'d-plot-frame');
 xTicks(cXTicks,sx,972,17,f0,'d-x-axis');
 yTicks(dYTicks,sy,815,17,f0,'d-y-axis');
 const g=mk('g',{});
 
 
 dots(dLower,sx,sy,'#0000ff',6.3,'d-elastance-point',g);
 dots(dUpper,sx,sy,'#0000ff',6.3,'d-elastance-point',g);
 dots(dCoreC,sx,sy,'#0000ff',6.3,'d-elastance-point',g);
 dots(dCoreB,sx,sy,'#0000ff',6.3,'d-elastance-point',g);
 dots(dCoreA,sx,sy,'#0000ff',6.3,'d-elastance-point',g);}
// Panel E
{const sx=scale(11,23,72,698), sy=scale(16,24,1498,1060);
 frame(72,1060,698,1498,'e-plot-frame');
 xTicks(eXTicks,sx,1498,17,f0,'e-x-axis');
 yTicks(eYTicks,sy,72,17,f0,'e-y-axis');
 const g=mk('g',{});
 
 
 dots(ePointsB,sx,sy,'#0000ff',6.3,'e-elastance-point',g);
 dots(ePoints,sx,sy,'#0000ff',6.3,'e-elastance-point',g);
 eDashes.forEach(v=>{
   const l=mk('line',{x1:sx(v),x2:sx(v),y1:1060,y2:1498,stroke:'#ff0000','stroke-width':3,'stroke-dasharray':'14,8'});
   
   
 });}
// Panel F
{const sx=scale(11,23,815,1440);
 const yTop=scale(18,20,1274,1060), yBot=scale(8,11,1498,1314);
 const yF=v=>v>=17?yTop(v):yBot(v);
 const bw=(sx(1)-sx(0))*0.77;
 xTicks(eXTicks,sx,1498,17,f0,'f-x-axis');
 yTicks(fYTopTicks,yTop,815,17,f0,'f-y-axis-top');
 yTicks(fYBotTicks,yBot,815,17,f0,'f-y-axis-bottom');
 fGroups.forEach((c,i)=>{
   const xc=sx(c);
   const eb=mk('rect',{x:xc-bw,y:yF(fEMean[i]),width:bw,height:1498-yF(fEMean[i]),fill:'#0000ff',stroke:'#000','stroke-width':1});
   
   
   const rb=mk('rect',{x:xc,y:yF(fRMean[i]),width:bw,height:1498-yF(fRMean[i]),fill:'#007a00',stroke:'#000','stroke-width':1});
   
   
   [[xc-bw/2,fEMean[i],fEErr[i]],[xc+bw/2,fRMean[i],fRErr[i]]].forEach(q=>{
     const p=mk('path',{d:`M${q[0]},${yF(q[1])}V${yF(q[1]+q[2])}M${q[0]-8},${yF(q[1]+q[2])}H${q[0]+8}`,stroke:'#000','stroke-width':1.3,fill:'none'});
     
     
   });
 });
 const gap=mk('rect',{x:816,y:1276,width:623,height:8,fill:'#fff'});
 
 
 const fr=mk('path',{d:'M815,1276V1060H1440V1276M815,1284V1498H1440V1284',fill:'none',stroke:'#000','stroke-width':1.5});
 
 
 const br=mk('path',{d:'M807,1282L823,1264M807,1294L823,1276M1432,1282L1448,1264M1432,1294L1448,1276',fill:'none',stroke:'#000','stroke-width':1.2});
 
 }
</script>
</body></html>
